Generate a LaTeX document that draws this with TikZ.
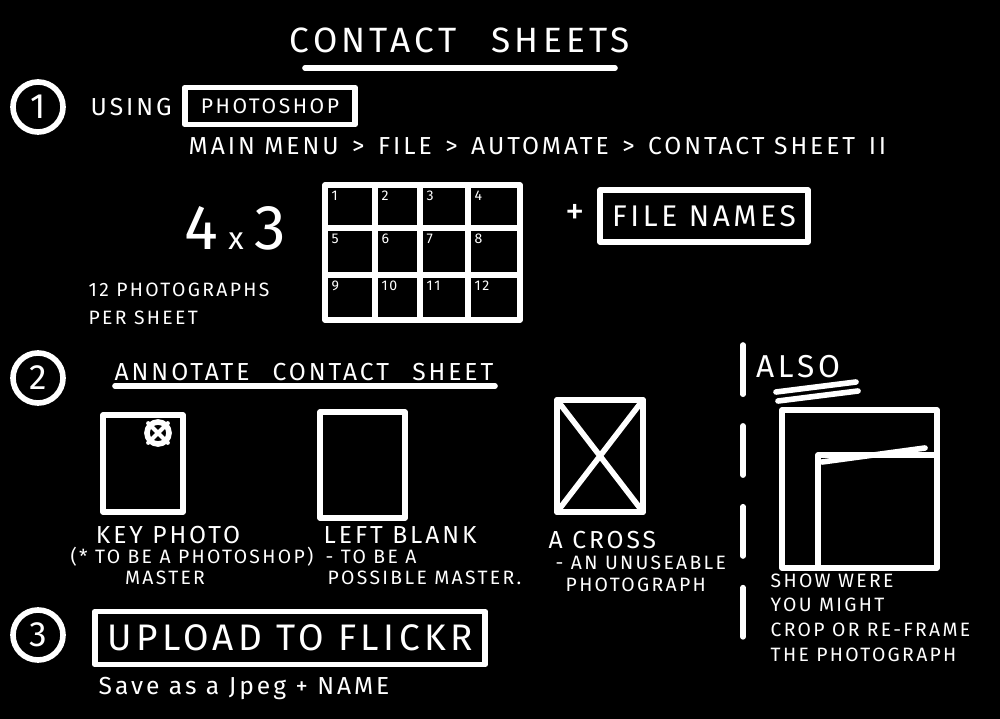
\documentclass[tikz,border=0pt]{standalone}
\usepackage{fontspec}
\setmainfont[LetterSpace=12]{Fira Sans}
\begin{document}
\begin{tikzpicture}[x=0.01cm,y=-0.01cm,
  ln/.style={draw=white,line width=1.6pt,line cap=round,line join=round},
  txt/.style={text=white,font=\fontsize{7}{8}\selectfont,inner sep=0pt},
  sm/.style={text=white,font=\fontsize{5.5}{6}\selectfont,inner sep=0pt},
  num/.style={text=white,font=\fontsize{4}{5}\selectfont,inner sep=0pt,anchor=north west}]
\fill[black] (0,0) rectangle (1000,719);
\useasboundingbox (0,0) rectangle (1000,719);
% title
\node[txt,font=\fontsize{10}{11}\selectfont] (title) at (460,40) {CONTACT\quad SHEETS};
\draw[ln] (305,68) -- (615,68);
% step 1
\node[ln,circle,minimum size=0.5cm,txt,font=\fontsize{10}{11}\selectfont] (c1) at (38,107) {1};
\node[txt,anchor=west] (using) at (90,107) {USING};
\node[ln,txt,font=\fontsize{6}{7}\selectfont,minimum width=1.7cm,minimum height=0.37cm] (ps) at (270,106) {PHOTOSHOP};
\node[txt,anchor=west] (menu) at (188,146) {MAIN MENU \,>\, FILE \,>\, AUTOMATE \,>\, CONTACT SHEET \,II};
\node[txt,font=\fontsize{18}{20}\selectfont] (fx) at (235,228) {4\,{\fontsize{9}{9}\selectfont x}\,3};
\draw[ln] (325,185) rectangle (520,320);
\foreach \x in {375,420,468} \draw[ln] (\x,185) -- (\x,320);
\foreach \y in {228,275} \draw[ln] (325,\y) -- (520,\y);
\foreach \n/\x in {1/328,2/378,3/423,4/471}
  \node[num] (n\n) at (\x+3,190) {\n};
\foreach \n/\x in {5/328,6/378,7/423,8/471}
  \node[num] (n\n) at (\x+3,233) {\n};
\foreach \n/\x in {9/328,10/378,11/423,12/471}
  \node[num] (n\n) at (\x+3,280) {\n};
\node[txt,font=\fontsize{11}{11}\selectfont] (plus) at (575,214) {+};
\node[ln,txt,font=\fontsize{8.5}{10}\selectfont,minimum width=2.08cm,minimum height=0.52cm] (fn) at (704,216) {FILE NAMES};
\node[sm,anchor=west,align=left] (twelve) at (88,304) {12 PHOTOGRAPHS\\[2pt]PER SHEET};
% step 2
\node[ln,circle,minimum size=0.5cm,txt,font=\fontsize{10}{11}\selectfont] (c2) at (38,378) {2};
\node[txt] (ann) at (304,372) {ANNOTATE\;\; CONTACT\;\; SHEET};
\draw[ln] (115,386) -- (495,386);
\draw[ln,dash pattern=on 14pt off 9pt] (743,345) -- (743,650);
\node[txt,font=\fontsize{9}{10}\selectfont] (also) at (798,367) {ALSO};
\draw[ln] (776,392) -- (856,382);
\draw[ln] (778,401) -- (858,391);
\draw[ln] (103,415) rectangle (183,512);
\node[ln,circle,minimum size=0.22cm,inner sep=0pt] (kc) at (158,433) {};
\draw[ln,line width=1.2pt] (kc.north west) -- (kc.south east) (kc.north east) -- (kc.south west);
\draw[ln] (320,412) rectangle (405,518);
\draw[ln] (557,400) rectangle (643,512);
\draw[ln] (557,400) -- (643,512) (643,400) -- (557,512);
\draw[ln] (782,410) rectangle (937,568);
\draw[ln] (818,568) -- (818,455) -- (937,455);
\draw[ln] (822,462) -- (925,448);
\node[sm,font=\fontsize{7}{8}\selectfont] (kp) at (168,535) {KEY PHOTO};
\node[sm] (kp2) at (192,557) {(* TO BE A PHOTOSHOP)};
\node[sm] (kp3) at (165,578) {MASTER};
\node[sm,font=\fontsize{7}{8}\selectfont,anchor=west] (lb) at (323,535) {LEFT BLANK};
\node[sm,anchor=west] (lb2) at (325,557) {- TO BE A};
\node[sm,anchor=west] (lb3) at (327,578) {POSSIBLE MASTER.};
\node[sm,font=\fontsize{7}{8}\selectfont,anchor=west] (ac) at (548,540) {A CROSS};
\node[sm,anchor=west] (ac2) at (555,563) {- AN UNUSEABLE};
\node[sm,anchor=west] (ac3) at (565,585) {PHOTOGRAPH};
\node[sm,anchor=north west,align=left] (sw) at (770,573) {SHOW WERE\\[1pt]YOU MIGHT\\[1pt]CROP OR RE-FRAME\\[1pt]THE PHOTOGRAPH};
% step 3
\node[ln,circle,minimum size=0.5cm,txt,font=\fontsize{10}{11}\selectfont] (c3) at (38,635) {3};
\node[ln,txt,font=\fontsize{10.5}{12}\selectfont,minimum width=3.9cm,minimum height=0.53cm] (up) at (290,638) {UPLOAD TO FLICKR};
\node[txt,anchor=west] (save) at (98,688) {Save as a Jpeg + NAME};
\end{tikzpicture}
\end{document}
